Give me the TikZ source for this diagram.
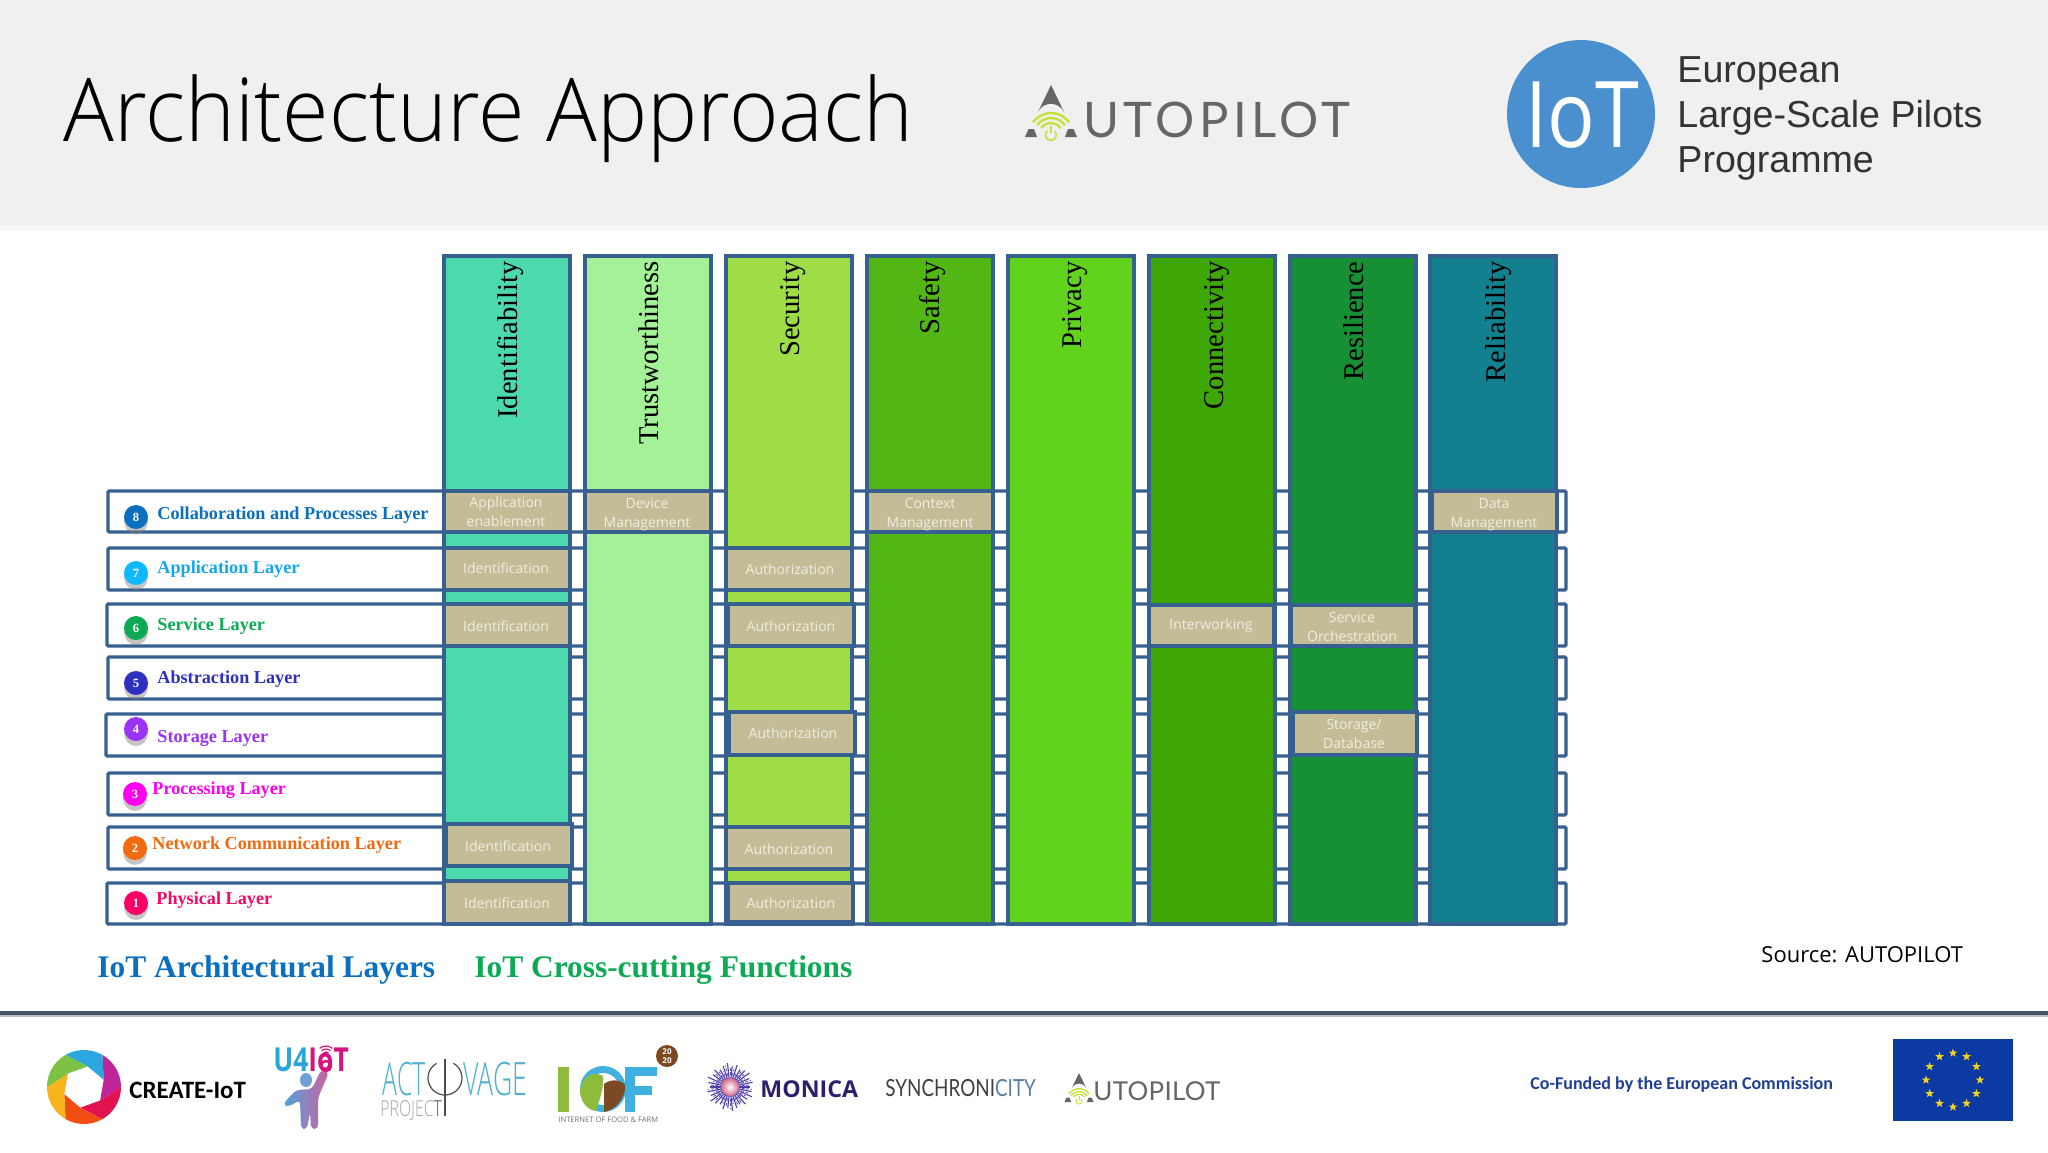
\documentclass[tikz,border=0pt]{standalone}
\usepackage{fontspec}
\usetikzlibrary{shapes.geometric}
\setmainfont{Open Sans}
\newfontfamily\lightF{Open Sans Light}
\newfontfamily\serifF{Liberation Serif}
\newfontfamily\arialF{Liberation Sans}
\newfontfamily\carlF{Carlito}
\newfontfamily\latoF{Lato}
\newfontfamily\latoS[LetterSpace=9]{Lato}
\definecolor{edge}{HTML}{36608F}
\definecolor{tan}{HTML}{C4BC96}
\definecolor{tant}{HTML}{F0EEE2}
\definecolor{caA}{HTML}{4DD9AE}\definecolor{caB}{HTML}{A5F197}
\definecolor{caC}{HTML}{9FDD47}\definecolor{caD}{HTML}{52B615}
\definecolor{caE}{HTML}{62D31C}\definecolor{caF}{HTML}{3EA705}
\definecolor{caG}{HTML}{168F35}\definecolor{caH}{HTML}{12808F}
\definecolor{l8}{HTML}{0B6FC0}\definecolor{l7}{HTML}{12A8EC}
\definecolor{l6}{HTML}{0DAA55}\definecolor{l5}{HTML}{3030C0}
\definecolor{l4}{HTML}{9933F5}\definecolor{l3}{HTML}{FF00F0}
\definecolor{l2}{HTML}{F26A10}\definecolor{l1}{HTML}{F50A62}
\definecolor{ball7}{HTML}{10B8FF}\definecolor{ball1}{HTML}{FF0066}
\definecolor{logoG}{HTML}{666666}\definecolor{logoY}{HTML}{C6E03C}
\definecolor{hdr}{HTML}{F0F0F1}\definecolor{iotblue}{HTML}{4A90CE}
\definecolor{rulec}{HTML}{44546A}
\definecolor{crA}{HTML}{2BA6DE}\definecolor{crB}{HTML}{C0269A}\definecolor{crC}{HTML}{E2114F}
\definecolor{crD}{HTML}{F04E12}\definecolor{crE}{HTML}{F8B41B}\definecolor{crF}{HTML}{7CC142}
\definecolor{uBlue}{HTML}{2BA3DB}\definecolor{uPink}{HTML}{D6137F}\definecolor{uHead}{HTML}{6FA0D8}
\definecolor{uL}{HTML}{4DA5DC}\definecolor{uR}{HTML}{D0609F}
\definecolor{actB}{HTML}{4FB0D0}
\definecolor{iofG}{HTML}{8DBB3C}\definecolor{iofB}{HTML}{3FB0E0}\definecolor{iofR}{HTML}{7B4A22}
\definecolor{monA}{HTML}{4A3FA8}\definecolor{monB}{HTML}{6A52B8}\definecolor{monC}{HTML}{D06A8A}\definecolor{monT}{HTML}{2E1F6E}
\definecolor{syncB}{HTML}{5A7FA5}
\definecolor{cofund}{HTML}{1F3F94}\definecolor{euB}{HTML}{0B3AA3}\definecolor{euY}{HTML}{F2D21E}
\tikzset{
  rowbox/.style={draw=edge,line width=1.6pt,fill=white,rounded corners=0.6pt},
  colbox/.style={draw=edge,line width=1.6pt},
  tanbox/.style={draw=edge,line width=1.6pt,fill=tan},
  tantext/.style={text=tant,align=center,inner sep=0pt,font=\fontsize{7.0}{9.5}\selectfont},
  coltitle/.style={rotate=90,anchor=east,inner sep=0pt,font=\serifF\fontsize{14.3}{16}\selectfont},
  laytext/.style={anchor=west,inner sep=0pt,font=\serifF\bfseries\fontsize{9.1}{10}\selectfont},
  ballnode/.style={circle,inner sep=0pt,minimum size=12pt,text=white,font=\serifF\bfseries\fontsize{6.3}{7}\selectfont},
  euStar/.style={star,star points=5,star point ratio=2.4,fill=euY,inner sep=0pt,minimum size=4.5pt},
  elsptext/.style={anchor=base west,inner sep=0pt,text=black!80,font=\arialF\fontsize{18.8}{22.5}\selectfont},
}
\newcommand\tanitem[8]{%
  \path[tanbox] (#2,#3) rectangle (#4,#5);
  \node[tantext] (#1) at (#6,#7) {#8};}
\newcommand\laylabel[8]{%
  \fill[black!50,opacity=.45] (#2,#3+4) ellipse [x radius=12,y radius=13];
  \node[ballnode,fill=#6] (ball#1) at (#2,#3) {#1};
  \node[laytext,text=#7] (lay#1) at (#4,#5) {#8};}
\newcommand\coltitleitem[3]{\node[coltitle] (#1) at (#2,261) {#3};}
\newcommand\aplogo[3]{%
  \begin{scope}[shift={(#1,#2)},x=#3*0.5pt,y=-#3*0.5pt]
    \fill[logoG] (0,0) -- (-13,27) arc[start angle=206,end angle=334,radius=14.5] -- (13,27) -- cycle;
    \fill[logoG] (-26,52) -- (-22.5,44) -- (-17,44) -- (-14,52) -- cycle;
    \fill[logoG] (26,52) -- (22.5,44) -- (17,44) -- (14,52) -- cycle;
    \foreach \r in {12,17,22}
      \draw[logoY,line width=#3*1.2pt] ([shift={(215:\r)}]0,50) arc[start angle=215,end angle=325,radius=\r];
    \draw[logoY,line width=#3*0.8pt] ([shift={(-50:5.5)}]0,50) arc[start angle=-50,end angle=230,radius=5.5];
    \draw[logoY,line width=#3*0.8pt] (0,41) -- (0,48);
  \end{scope}}
\begin{document}
\begin{tikzpicture}[x=0.5pt,y=-0.5pt]
\useasboundingbox (0,0) rectangle (2048,1152);
\fill[white] (0,0) rectangle (2048,1152);
% header
\fill[black!3] (0,226) rectangle (2048,231);
\fill[hdr] (0,0) rectangle (2048,226);
\node[anchor=base west,inner sep=0pt,font=\lightF\fontsize{44}{50}\selectfont] (title) at (63,141) {\scalebox{.96}[1]{Architecture Approach}};
\aplogo{1051}{85}{1}
\node[anchor=base west,inner sep=0pt,text=logoG,font=\latoS\fontsize{24.5}{26}\selectfont] (aplogotext) at (1083,137) {UTOPILOT};
\fill[iotblue] (1581,114) circle [radius=74];
\node[inner sep=0pt,text=white,font=\fontsize{46}{50}\selectfont,anchor=base] (iotmark) at (1582,147) {\scalebox{.86}[1]{IoT}};
\node[elsptext] (elspA) at (1677,82) {European};
\node[elsptext] (elspB) at (1677,127) {Large-Scale Pilots};
\node[elsptext] (elspC) at (1677,172) {Programme};
% layer rows
\foreach \t/\b/\l in {491/532/108,548/590/108,604/646/107,657/699/108,714/756/106,773/815/108,827/869/108,883/924/107}
  \path[rowbox] (\l,\t) rectangle (1566,\b);
% columns
\foreach \x/\c in {444/caA,585/caB,726/caC,867/caD,1008/caE,1149/caF,1290/caG,1430/caH}
  \path[colbox,fill=\c] (\x,256) rectangle (\x+126,924);
\coltitleitem{cIdent}{511}{Identifiability}
\coltitleitem{cTrust}{649}{Trustworthiness}
\coltitleitem{cSec}{793}{Security}
\coltitleitem{cSafe}{933}{Safety}
\coltitleitem{cPriv}{1075}{Privacy}
\coltitleitem{cConn}{1217}{Connectivity}
\coltitleitem{cRes}{1354}{Resilience}
\coltitleitem{cRel}{1499}{Reliability}
% function boxes
\tanitem{fAE}{444}{491}{570}{532}{506}{512}{Application\\enablement}
\tanitem{fI7}{444}{548}{570}{590}{506}{568}{Identification}
\tanitem{fI6}{444}{604}{570}{646}{506}{626}{Identification}
\tanitem{fI2}{446}{824}{572}{866}{508}{846}{Identification}
\tanitem{fI1}{444}{881}{570}{924}{507}{903}{Identification}
\tanitem{fDM}{585}{491}{711}{532}{647}{515}{Device\\Management}
\tanitem{fA7}{726}{548}{852}{590}{790}{569}{Authorization}
\tanitem{fA6}{728}{604}{854}{646}{791}{626}{Authorization}
\tanitem{fA4}{729}{712}{855}{755}{793}{733}{Authorization}
\tanitem{fA2}{726}{827}{852}{869}{789}{849}{Authorization}
\tanitem{fA1}{728}{883}{853}{922}{791}{903}{Authorization}
\tanitem{fCM}{867}{491}{993}{532}{930}{515}{Context\\Management}
\tanitem{fIW}{1149}{605}{1274}{646}{1211}{626}{Interworking}
\tanitem{fSO}{1291}{605}{1415}{646}{1352}{627}{Service\\Orchestration}
\tanitem{fSD}{1293}{712}{1417}{755}{1354}{734}{Storage/\\Database}
\tanitem{fDa}{1432}{491}{1557}{532}{1494}{515}{Data\\Management}
% layer labels
\laylabel{8}{136}{517}{157}{515}{l8}{l8}{Collaboration and Processes Layer}
\laylabel{7}{136}{573}{157}{569}{ball7}{l7}{Application Layer}
\laylabel{6}{136}{628}{157}{626}{l6}{l6}{Service Layer}
\laylabel{5}{136}{683}{157}{679}{l5}{l5}{Abstraction Layer}
\laylabel{4}{136}{729}{157}{738}{l4}{l4}{Storage Layer}
\laylabel{3}{135}{794}{152}{790}{l3}{l3}{Processing Layer}
\laylabel{2}{135}{848}{152}{845}{l2}{l2}{Network Communication Layer}
\laylabel{1}{136}{903}{156}{900}{ball1}{l1}{Physical Layer}
% captions
\node[anchor=west,inner sep=0pt,text=l8,font=\serifF\bfseries\fontsize{15.7}{18}\selectfont] (capA) at (97,970) {IoT Architectural Layers};
\node[anchor=west,inner sep=0pt,text=l6,font=\serifF\bfseries\fontsize{15.7}{18}\selectfont] (capB) at (474,970) {IoT Cross-cutting Functions};
\node[anchor=west,inner sep=0pt,font=\fontsize{11}{14}\selectfont] (src) at (1761,955) {Source: AUTOPILOT};
% footer rule
\fill[rulec] (0,1011) rectangle (2048,1015);
\fill[black!25] (0,1015) rectangle (2048,1017);
% CREATE-IoT
\foreach \a/\b/\c in {-120/-60/crA,-60/0/crB,0/60/crC,60/120/crD,120/180/crE,180/240/crF}
  \fill[\c] ([shift={(\a:37)}]84,1087) arc[start angle=\a,end angle=\b,radius=37] -- ([shift={(\b+40:21)}]84,1087) -- ([shift={(\a+40:21)}]84,1087) -- cycle;
\node[anchor=west,inner sep=0pt,font=\carlF\bfseries\fontsize{12.5}{14}\selectfont] (createiot) at (129,1090) {CREATE-IoT};
% U4IoT
\node[anchor=west,inner sep=0pt,font=\bfseries\fontsize{16.5}{18}\selectfont] (u4iot) at (273,1060) {\scalebox{.8}[1]{\textcolor{uBlue}{U4}\textcolor{uPink}{IoT}}};
\foreach \r in {4,7,10}
  \draw[uPink,line width=.6pt] ([shift={(230:\r)}]326,1056) arc[start angle=230,end angle=310,radius=\r];
\fill[uHead] (306,1080) ellipse [x radius=6,y radius=7];
\shade[left color=uL,right color=uR,rounded corners=2pt] (283,1104) -- (296,1090) -- (312,1089) -- (321,1070) -- (329,1072) -- (318,1098) -- (318,1129) -- (311,1129) -- (310,1112) -- (307,1129) -- (301,1129) -- (300,1100) -- (288,1107) -- cycle;
\draw[uPink,line width=1.2pt] (326,1066) circle [radius=5];
% ACTIVAGE
\node[anchor=base east,inner sep=0pt,text=actB,font=\lightF\fontsize{23}{24}\selectfont] (act) at (426,1095) {\scalebox{.54}[1]{ACT}};
\node[anchor=base west,inner sep=0pt,text=actB,font=\lightF\fontsize{23}{24}\selectfont] (vage) at (463,1095) {\scalebox{.58}[1]{VAGE}};
\draw[black!70,line width=.6pt] ([shift={(-60:17)}]445,1078) arc[start angle=-60,end angle=240,radius=17];
\draw[black!70,line width=.6pt] (445,1059) -- (445,1116);
\node[anchor=base west,inner sep=0pt,text=black!35,font=\lightF\fontsize{11}{12}\selectfont] (project) at (380,1116) {\scalebox{.72}[1]{PROJEC\textcolor{black!70}{T}}};
% IoF
\fill[iofG] (558,1067) rectangle (569,1112);
\fill[iofB] (603,1089) circle [radius=23];
\fill[white] (603,1089) circle [radius=16];
\fill[iofG] (580,1090) .. controls (584,1072) and (596,1072) .. (603,1076) .. controls (604,1088) and (600,1098) .. (596,1111) .. controls (586,1110) and (580,1100) .. (580,1090) -- cycle;
\fill[iofR] (604,1084) .. controls (612,1078) and (622,1080) .. (626,1086) .. controls (624,1100) and (615,1110) .. (604,1112) -- cycle;
\fill[iofB] (625,1067) rectangle (657,1076);
\fill[iofB] (625,1067) rectangle (635,1112);
\fill[iofB] (625,1086) rectangle (652,1095);
\node[anchor=west,inner sep=0pt,text=black!55,font=\fontsize{3.8}{5}\selectfont] (ioftext) at (558,1120) {INTERNET OF FOOD \& FARM};
\node[circle,fill=iofR,text=white,inner sep=0pt,minimum size=11pt,align=center,font=\bfseries\fontsize{4}{4.2}\selectfont] (iofbadge) at (667,1056) {20\\20};
% MONICA
\foreach \a in {0,12,...,348}
  \draw[monA,line width=.55pt] ([shift={(\a:7)}]730,1087) -- ([shift={(\a:{20+mod(\a,5)})}]730,1087);
\foreach \a in {6,18,...,354}
  \draw[monB,line width=.45pt,dash pattern=on 1.5pt off .8pt] ([shift={(\a:7)}]730,1087) -- ([shift={(\a:{16+mod(\a,7)})}]730,1087);
\shade[inner color=white,outer color=monC] (730,1087) circle [radius=9];
\node[anchor=base west,inner sep=0pt,text=monT,font=\bfseries\fontsize{11.6}{14}\selectfont] (monica) at (760,1097) {MONICA};
% SYNCHRONICITY
\node[anchor=base west,inner sep=0pt,text=black!75,font=\latoF\fontsize{11.8}{14}\selectfont] (sync) at (885,1096) {\scalebox{.8}[1]{SYNCHRONI\textcolor{syncB}{CITY}}};
% small AUTOPILOT
\aplogo{1079}{1073}{.56}
\node[anchor=base west,inner sep=0pt,text=logoG,font=\latoF\fontsize{13}{15}\selectfont] (aplogosmall) at (1093,1100) {\addfontfeature{LetterSpace=1}UTOPILOT};
% funding
\node[anchor=west,inner sep=0pt,text=cofund,font=\carlF\bfseries\fontsize{9}{11}\selectfont] (cofundtext) at (1530,1085) {Co-Funded by the European Commission};
\fill[euB] (1893,1039) rectangle (2013,1121);
\foreach \i in {0,30,...,330}
  \node[euStar] (star\i) at ([shift={(\i:27)}]1953,1080) {};
\end{tikzpicture}
\end{document}
